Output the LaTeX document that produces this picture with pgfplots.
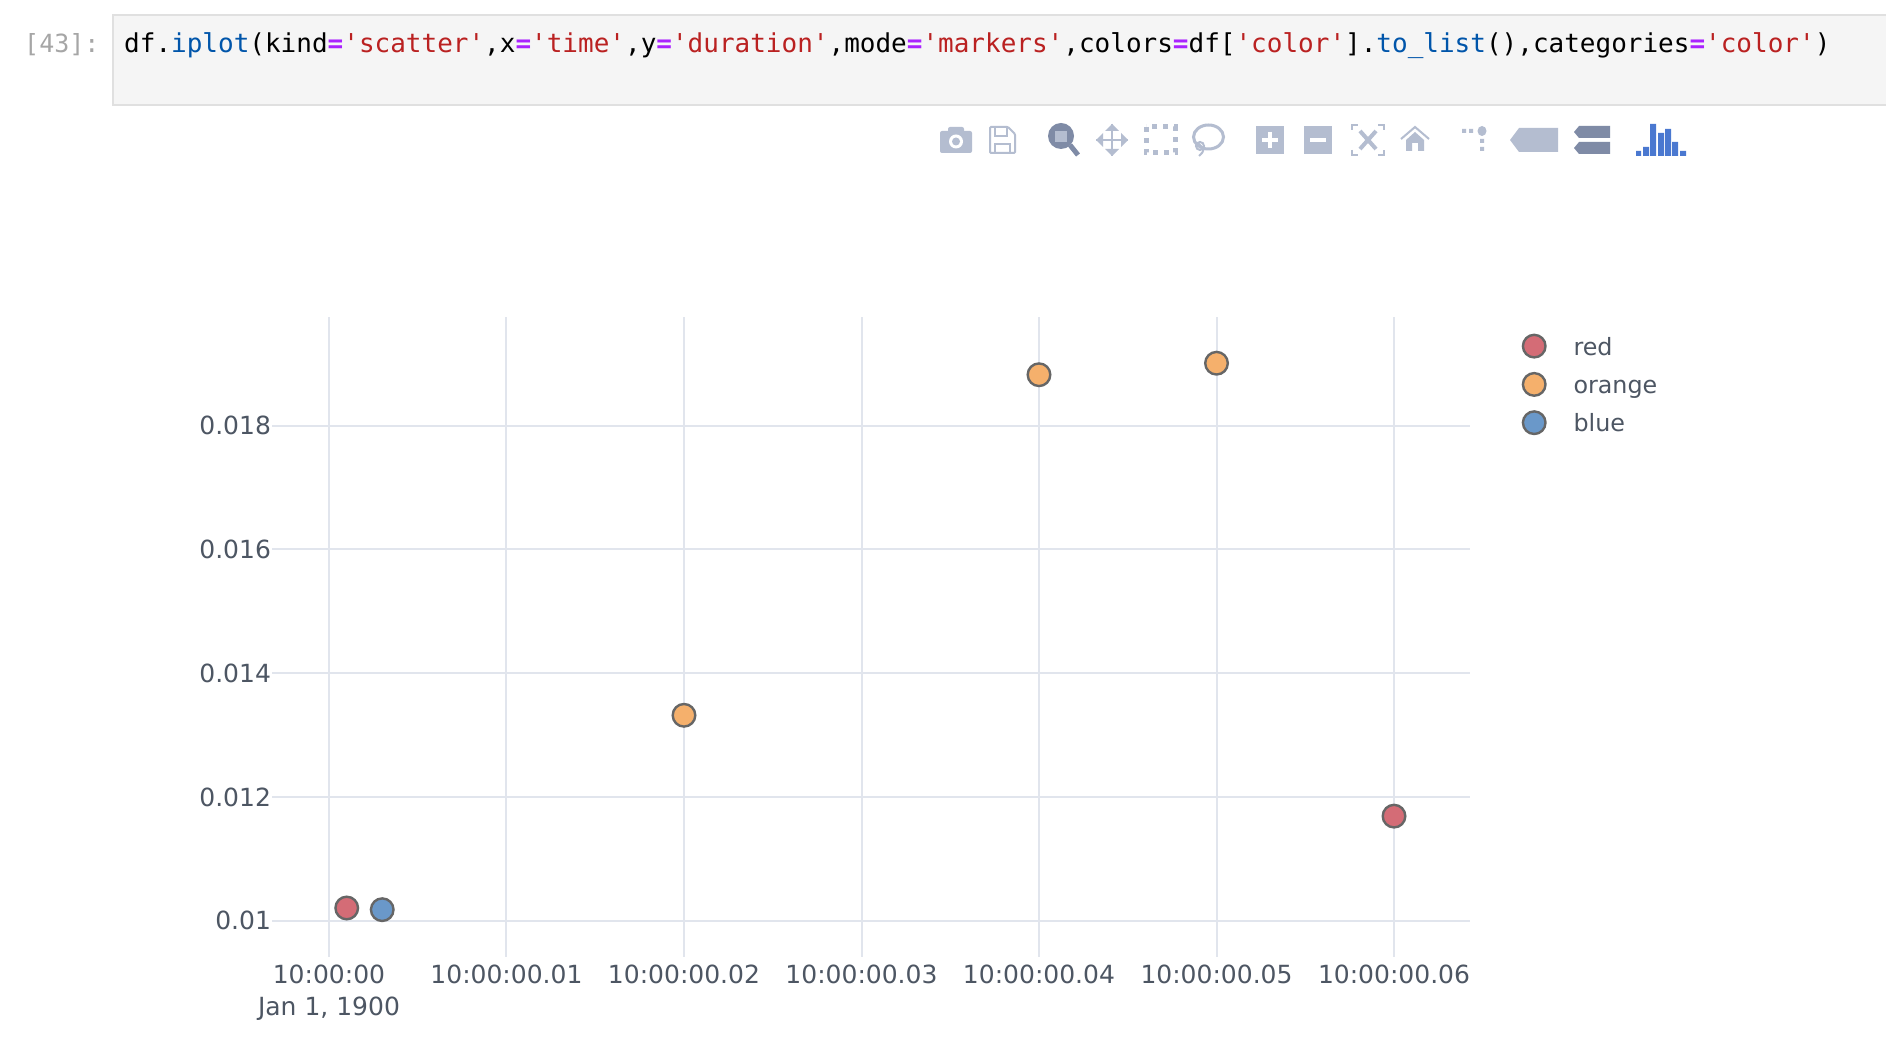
\documentclass[border=0pt]{standalone}
\usepackage{fontspec}
\usepackage{pgfplots}
\pgfplotsset{compat=1.18}
\setmainfont{DejaVu Sans}
\newfontfamily\codefont{DejaVu Sans Mono}

\definecolor{gridc}{HTML}{E1E5ED}
\definecolor{textc}{HTML}{4D5663}
\definecolor{edgec}{HTML}{666666}
\definecolor{redc}{HTML}{D46C76}
\definecolor{orangec}{HTML}{F5B06C}
\definecolor{bluec}{HTML}{6A98C9}
\definecolor{cellbg}{HTML}{F5F5F5}
\definecolor{cellln}{HTML}{E0E0E0}
\definecolor{strc}{HTML}{BA2121}
\definecolor{opc}{HTML}{AA22FF}
\definecolor{propc}{HTML}{0055AA}
\definecolor{lt}{HTML}{B4BDD0}
\definecolor{dk}{HTML}{7F8BA6}
\definecolor{logoc}{HTML}{4A78D0}

\newcommand\str[1]{\textcolor{strc}{#1}}
\newcommand\eq{\textcolor{opc}{\bfseries =}}
\newcommand\prop[1]{\textcolor{propc}{#1}}

\pgfplotsset{dot/.style={only marks,mark=*,mark size=11.3pt,
  mark options={draw=edgec,line width=2.4pt,fill=#1}}}

\begin{document}
\begin{tikzpicture}
\path[use as bounding box] (0,0) rectangle (1886pt,1058pt);
\fill[white] (0,0) rectangle (1886pt,1058pt);

\begin{axis}[
  at={(272pt,101.3pt)},anchor=south west,
  scale only axis,width=1198pt,height=640pt,
  xmin=-0.321,xmax=6.428,ymin=0.009418,ymax=0.019762,
  axis line style={draw=none},
  major tick length=0pt,
  grid=major,
  grid style={gridc,line width=2pt},
  xtick={0,1,2,3,4,5,6},
  xticklabels={{10:00:00\\Jan 1, 1900},10:00:00.01,10:00:00.02,10:00:00.03,10:00:00.04,10:00:00.05,10:00:00.06},
  ytick={0.01,0.012,0.014,0.016,0.018},
  yticklabels={0.01,0.012,0.014,0.016,0.018},
  scaled y ticks=false,
  every tick label/.append style={font=\fontsize{25}{31.5}\selectfont,text=textc},
  xticklabel style={align=center,yshift=-5pt,anchor=north},
  yticklabel style={xshift=2.5pt},
  legend cell align=left,
  legend image code/.code={\draw[#1] plot coordinates {(0.3cm,3pt)};},
  legend style={at={(1.044,0.972)},anchor=north west,draw=none,fill=none,
    font=\fontsize{23.8}{30}\selectfont,text=textc,inner sep=0pt,row sep=10pt,
    nodes={text height=18pt,text depth=6pt},
    /tikz/every odd column/.append style={column sep=26pt}},
]
\addplot[dot=redc] coordinates {(0.1,0.010205) (6,0.01169)};
\addplot[dot=orangec] coordinates {(2,0.01332) (4,0.018824) (5,0.01901)};
\addplot[dot=bluec] coordinates {(0.3,0.010178)};
\legend{red,orange,blue}
\end{axis}

\begin{scope}[x=1pt,y=-1pt,yshift=1058pt]
% notebook cell
\filldraw[fill=cellbg,draw=cellln,line width=2pt] (113,15) rectangle (1890,105);
\node[anchor=base west,inner sep=0pt,font=\fontsize{26}{30}\selectfont\codefont] at (124,52.5)
  {df.\prop{iplot}(kind\eq\str{'scatter'},x\eq\str{'time'},y\eq\str{'duration'},mode\eq\str{'markers'},colors\eq df[\str{'color'}].\prop{to\_list}(),categories\eq\str{'color'})};
\node[anchor=base west,inner sep=0pt,text=black!35,font=\fontsize{25}{30}\selectfont\codefont] at (24,53) {[43]:};

% modebar: camera
\fill[lt,rounded corners=2pt] (940,131) rectangle (972,153);
\fill[lt,rounded corners=2pt] (948,127) rectangle (964,133);
\fill[white] (956,141.5) circle (7);
\fill[lt] (956,141.5) circle (4);
% save
\draw[lt,line width=2pt,rounded corners=1pt] (990,127) -- (1008,127) -- (1015,134) -- (1015,153) -- (990,153) -- cycle;
\draw[lt,line width=2pt] (995,127) -- (995,136) -- (1007,136) -- (1007,127);
\draw[lt,line width=2pt] (995,153) -- (995,144) -- (1010,144) -- (1010,153);
% zoom
\draw[dk,line width=5pt] (1070,145) -- (1078,155);
\fill[dk] (1061,136) circle (13);
\fill[lt] (1055,131) rectangle (1067,142);
% pan
\draw[lt,line width=2.5pt] (1096,140) -- (1128,140) (1112,124) -- (1112,156);
\fill[lt] (1096,140) -- (1103,133) -- (1103,147) -- cycle;
\fill[lt] (1128,140) -- (1121,133) -- (1121,147) -- cycle;
\fill[lt] (1112,124) -- (1105,131) -- (1119,131) -- cycle;
\fill[lt] (1112,156) -- (1105,149) -- (1119,149) -- cycle;
% box select
\draw[lt,line width=5pt,dash pattern=on 5pt off 6pt] (1146,127) rectangle (1175,153);
% lasso
\draw[lt,line width=3pt] (1208.5,137) ellipse (15 and 12);
\draw[lt,line width=2pt] (1200,146) circle (4);
\draw[lt,line width=2pt] (1198,143) .. controls (1205,150) .. (1199,156);
% zoom in, zoom out
\fill[lt] (1256,126) rectangle (1284,154);
\draw[white,line width=3.5pt] (1262,140) -- (1278,140) (1270,132) -- (1270,148);
\fill[lt] (1304,126) rectangle (1332,154);
\draw[white,line width=3.5pt] (1310,140) -- (1326,140);
% autoscale
\draw[lt,line width=2pt] (1352,130) -- (1352,125) -- (1358,125) (1378,125) -- (1384,125) -- (1384,130)
  (1352,150) -- (1352,155) -- (1358,155) (1378,155) -- (1384,155) -- (1384,150);
\draw[lt,line width=4pt] (1360,131) -- (1376,149) (1376,131) -- (1360,149);
% home
\fill[lt] (1406,140) -- (1415,132) -- (1424,140) -- (1424,151) -- (1418,151) -- (1418,143) -- (1412,143) -- (1412,151) -- (1406,151) -- cycle;
\draw[lt,line width=2pt] (1401,139) -- (1415,127) -- (1429,139);
% spikes
\fill[lt] (1462,129) rectangle (1466,133) (1469,129) rectangle (1473,133);
\fill[lt] (1482,131) ellipse (4.5 and 5);
\fill[lt] (1480,139) rectangle (1484,143) (1480,147) rectangle (1484,151);
% hover closest
\fill[lt] (1510,140) -- (1519,128) -- (1558,128) -- (1558,152) -- (1519,152) -- cycle;
% hover compare
\fill[dk] (1574,132) -- (1579,126) -- (1610,126) -- (1610,138) -- (1579,138) -- cycle;
\fill[dk] (1574,148) -- (1579,142) -- (1610,142) -- (1610,154) -- (1579,154) -- cycle;
% plotly logo
\fill[logoc] (1636,151) rectangle (1641,156) (1643,147) rectangle (1649,156)
  (1650,124) rectangle (1656,156) (1658,133) rectangle (1664,156)
  (1665,129) rectangle (1671,156) (1672,142) rectangle (1678,156) (1680,151) rectangle (1686,156);
\end{scope}
\end{tikzpicture}
\end{document}
